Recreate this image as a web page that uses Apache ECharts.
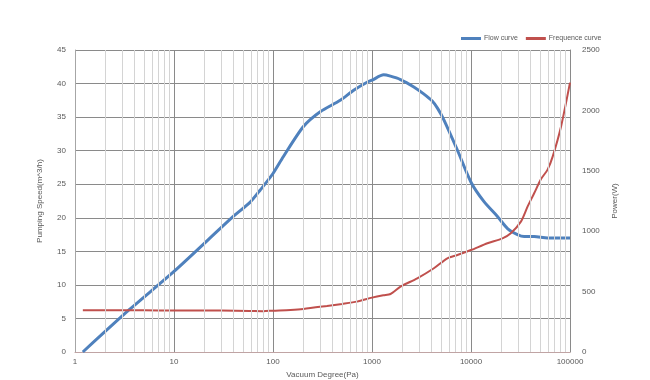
<!DOCTYPE html>
<html><head><meta charset="utf-8">
<script src="https://cdn.jsdelivr.net/npm/echarts@6/dist/echarts.min.js"></script>
<style>html,body{margin:0;padding:0;background:#fff;overflow:hidden}#c{width:650px;height:380px}</style>
</head><body><div id="c"></div>
<script>
var flowPressure = [1.2, 3.51, 10, 39.7, 58.6, 74, 100, 127, 203, 300, 478, 653, 891, 1000, 1312, 1535, 1940, 2645, 3300, 4060, 4600, 5320, 7280, 10000, 13540, 18500, 23400, 29500, 34400, 43400, 59400, 100000];
var flowSpeed = [0, 6.26, 12, 20.2, 22.3, 24.1, 26.6, 29.1, 33.6, 35.8, 37.5, 39.0, 40.2, 40.5, 41.3, 41.1, 40.6, 39.5, 38.5, 37.4, 36.3, 34.6, 30.1, 25.3, 22.4, 20.2, 18.4, 17.5, 17.2, 17.2, 17.0, 17.0];
var freqPressure = [1.2, 5, 10, 30, 58, 80, 100, 150, 203, 351, 500, 706, 1000, 1300, 1540, 1940, 2866, 4220, 5770, 7280, 10000, 14660, 20800, 25250, 31900, 37250, 43450, 50800, 59400, 66800, 81100, 100000];
var freqPower = [345, 345, 344, 343, 340, 338, 342, 348, 356, 381, 398, 417, 450, 470, 480, 541, 610, 693, 776, 803, 844, 900, 941, 983, 1079, 1203, 1314, 1430, 1510, 1617, 1865, 2230];
var minorGrid = [2,3,4,5,6,7,8,9,20,30,40,50,60,70,80,90,200,300,400,500,600,700,800,900,2000,3000,4000,5000,6000,7000,8000,9000,20000,30000,40000,50000,60000,70000,80000,90000];
var seriesNames = ['Flow curve', 'Frequence curve'];
var leftName = 'Pumping Speed(m^3/h)';
var rightName = 'Power(W)';
var xName = 'Vacuum Degree(Pa)';

var font = 'Liberation Sans';
var txt = '#595959';
function pairs(xs, ys){ return xs.map(function(x,i){ return [x, ys[i]]; }); }
function plain(v){ return String(Math.round(v)); }

var chart = echarts.init(document.getElementById('c'), null, {renderer:'canvas', width: 650, height: 380});
chart.setOption({
  animation: false,
  backgroundColor: '#fff',
  textStyle: {fontFamily: font},
  grid: {left: 75, right: 80, top: 50, bottom: 28, containLabel: false, outerBoundsMode: 'none'},
  legend: {
    data: seriesNames, left: 456, top: 30, itemWidth: 20, itemHeight: 3, itemGap: 8,
    icon: 'rect', textStyle: {fontSize: 7, color: txt, fontFamily: font, padding: [0,0,0,-2]}
  },
  xAxis: {
    type: 'log', logBase: 10, min: 1, max: 100000,
    name: xName, nameLocation: 'middle', nameGap: 18,
    nameTextStyle: {fontSize: 8, color: txt, fontFamily: font},
    axisLine: {show: true, lineStyle: {color: '#c0a4a4', width: 1}},
    axisTick: {show: false},
    axisLabel: {fontSize: 8, color: txt, margin: 6, fontFamily: font, formatter: plain},
    splitLine: {show: true, lineStyle: {color: '#8a8a8a', width: 1}}
  },
  yAxis: [{
    type: 'value', min: 0, max: 45, interval: 5,
    name: leftName, nameLocation: 'middle', nameGap: 31, nameRotate: 90,
    nameTextStyle: {fontSize: 8, color: txt, fontFamily: font},
    axisLine: {show: true, lineStyle: {color: '#a6a6a6'}},
    axisTick: {show: false},
    axisLabel: {fontSize: 8, color: txt, margin: 9, fontFamily: font, formatter: plain},
    splitLine: {show: true, lineStyle: {color: '#8a8a8a', width: 1}}
  }, {
    type: 'value', min: 0, max: 2500, interval: 500, position: 'right',
    name: rightName, nameLocation: 'middle', nameGap: 28, nameRotate: 90,
    nameTextStyle: {fontSize: 8, color: txt, fontFamily: font},
    axisLine: {show: true, lineStyle: {color: '#8a8a8a'}},
    axisTick: {show: false},
    axisLabel: {fontSize: 8, color: txt, margin: 12, fontFamily: font, formatter: plain},
    splitLine: {show: false}
  }],
  series: [{
    name: 'minor', type: 'line', data: [], silent: true,
    markLine: {
      silent: true, symbol: ['none','none'], animation: false,
      label: {show: false},
      lineStyle: {color: '#d4d4d4', width: 1, type: 'solid'},
      emphasis: {disabled: true},
      data: minorGrid.map(function(v){ return {xAxis: v}; })
    }
  }, {
    name: seriesNames[0], type: 'line', yAxisIndex: 0, data: pairs(flowPressure, flowSpeed),
    smooth: 0.25, showSymbol: false, symbol: 'none',
    lineStyle: {color: '#4f81bd', width: 3}, itemStyle: {color: '#4f81bd'}, z: 3
  }, {
    name: seriesNames[1], type: 'line', yAxisIndex: 1, data: pairs(freqPressure, freqPower),
    smooth: 0.25, showSymbol: false, symbol: 'none',
    lineStyle: {color: '#c0504d', width: 2}, itemStyle: {color: '#c0504d'}, z: 4
  }]
});
</script></body></html>
